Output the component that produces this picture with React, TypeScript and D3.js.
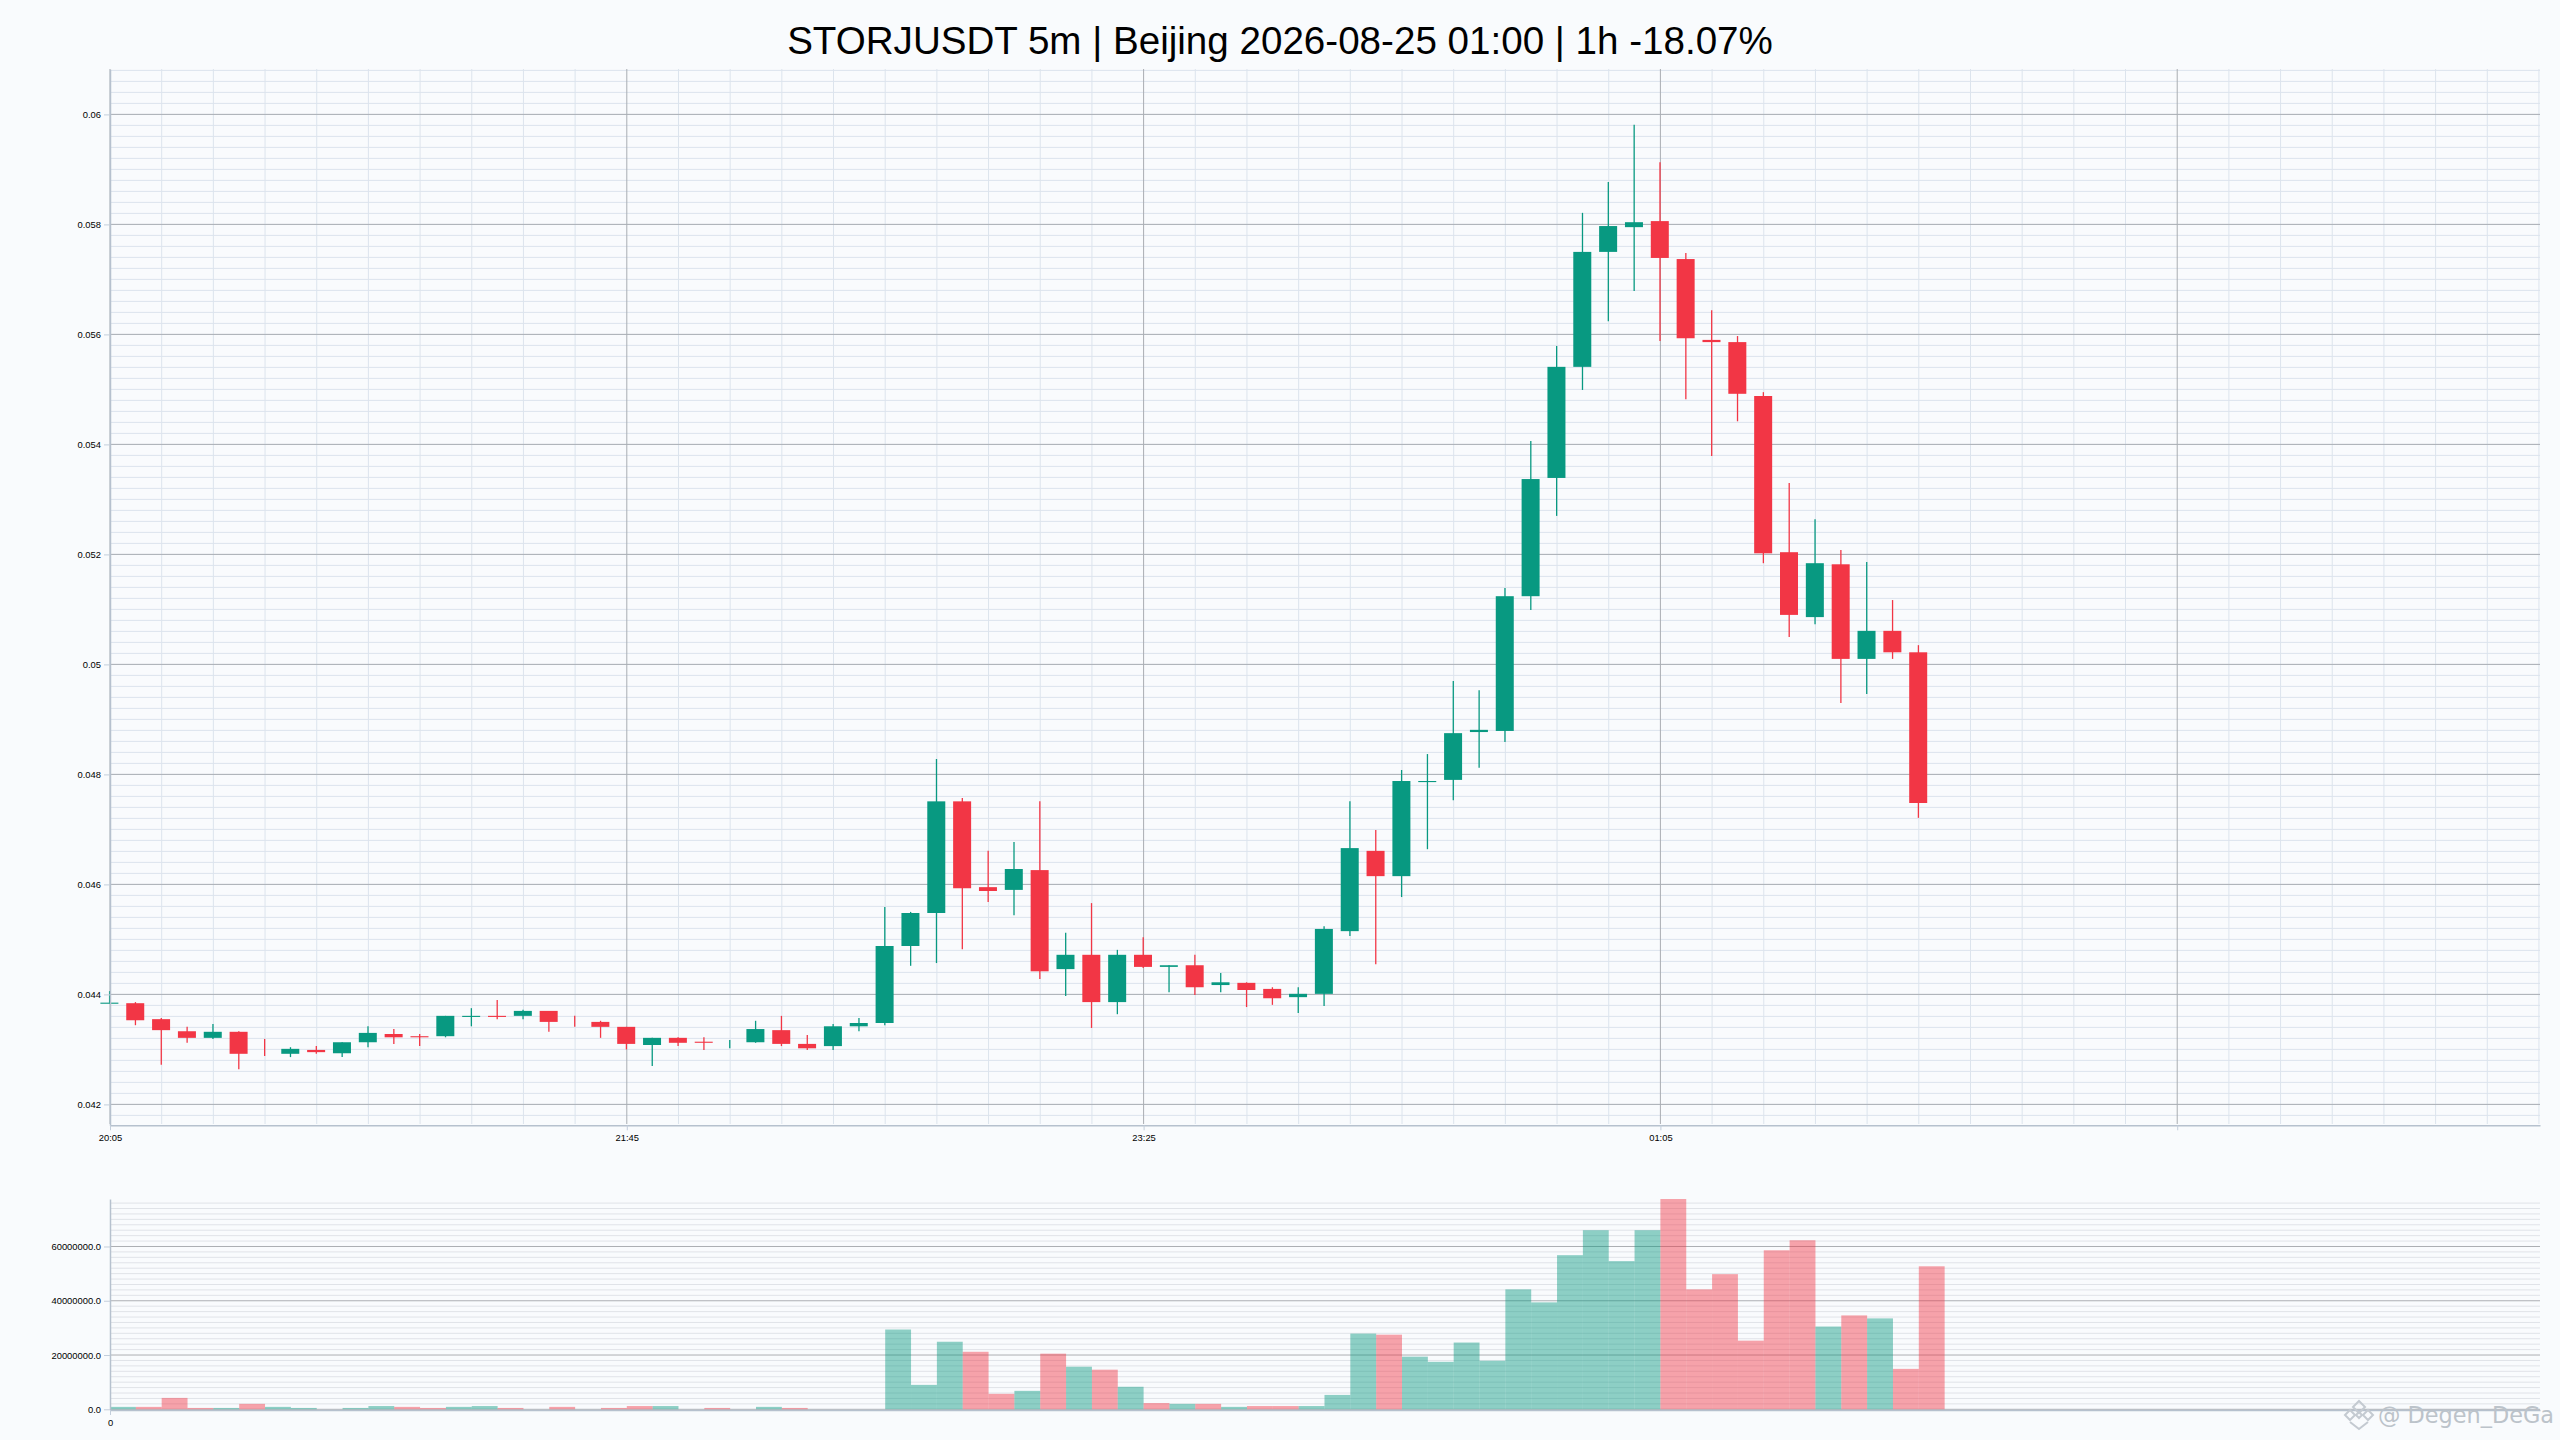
import { useEffect, useRef } from 'react'
import * as d3 from 'd3'

const title = 'STORJUSDT 5m | Beijing 2026-08-25 01:00 | 1h -18.07%'
const watermark = '@ Degen_DeGa'

const opens = [
  0.04383, 0.04384, 0.04355, 0.04333, 0.04321, 0.04332, 0.043, 0.04292, 0.04299, 0.04293,
  0.04313, 0.04328, 0.04324, 0.04324, 0.04359, 0.04361, 0.04361, 0.0437, 0.0435, 0.0435,
  0.04341, 0.04308, 0.04321, 0.04314, 0.0431, 0.04313, 0.04335, 0.0431, 0.04306, 0.04342,
  0.04348, 0.04488, 0.04548, 0.04751, 0.04595, 0.0459, 0.04626, 0.04446, 0.04472, 0.04386,
  0.04472, 0.0445, 0.04453, 0.04417, 0.04421, 0.0441, 0.04395, 0.04401, 0.04515, 0.04661,
  0.04615, 0.04786, 0.0479, 0.04877, 0.04879, 0.05124, 0.05339, 0.05541, 0.0575, 0.05795,
  0.05806, 0.05737, 0.0559, 0.05586, 0.05488, 0.05204, 0.05086, 0.05182, 0.0501, 0.05061,
  0.05022,
]
const closes = [
  0.04385, 0.04353, 0.04335, 0.04321, 0.04332, 0.04292, 0.043, 0.04301, 0.04295, 0.04313,
  0.0433, 0.04322, 0.04322, 0.04361, 0.04361, 0.04359, 0.0437, 0.0435, 0.0435, 0.04341,
  0.0431, 0.04321, 0.04312, 0.04312, 0.0431, 0.04337, 0.0431, 0.04302, 0.04342, 0.04348,
  0.04488, 0.04548, 0.04751, 0.04593, 0.04588, 0.04628, 0.04442, 0.04472, 0.04386, 0.04472,
  0.0445, 0.04453, 0.04413, 0.04422, 0.04408, 0.04393, 0.04401, 0.04519, 0.04666, 0.04615,
  0.04788, 0.04788, 0.04875, 0.04881, 0.05124, 0.05337, 0.05541, 0.0575, 0.05797, 0.05804,
  0.05739, 0.05593, 0.05586, 0.05492, 0.05202, 0.0509, 0.05184, 0.0501, 0.05061, 0.05022,
  0.04748,
]
const highs = [
  0.04406, 0.04386, 0.04357, 0.04341, 0.04346, 0.04333, 0.04319, 0.04304, 0.04306, 0.04313,
  0.04342, 0.04337, 0.04328, 0.04361, 0.04375, 0.0439, 0.04372, 0.0437, 0.04361, 0.04352,
  0.04341, 0.04321, 0.04322, 0.04322, 0.04317, 0.04352, 0.04361, 0.04326, 0.04346, 0.04357,
  0.04559, 0.0455, 0.04828, 0.04757, 0.04661, 0.04677, 0.04751, 0.04512, 0.04566, 0.04481,
  0.04504, 0.04453, 0.04472, 0.04439, 0.04422, 0.04413, 0.04413, 0.04524, 0.04751, 0.04699,
  0.04808, 0.04837, 0.0497, 0.04953, 0.05139, 0.05406, 0.05579, 0.05821, 0.05877, 0.05981,
  0.05913, 0.05748, 0.05644, 0.05597, 0.05495, 0.0533, 0.05264, 0.05208, 0.05186, 0.05117,
  0.05035,
]
const lows = [
  0.04383, 0.04344, 0.04272, 0.04312, 0.04319, 0.04264, 0.04288, 0.04286, 0.04292, 0.04286,
  0.04304, 0.0431, 0.04306, 0.04322, 0.04342, 0.04355, 0.04355, 0.04332, 0.04341, 0.04321,
  0.043, 0.0427, 0.04306, 0.04299, 0.04302, 0.04312, 0.04306, 0.04299, 0.04299, 0.04333,
  0.04344, 0.04452, 0.04457, 0.04482, 0.04568, 0.04544, 0.04428, 0.04397, 0.04339, 0.04364,
  0.04448, 0.04404, 0.04399, 0.04404, 0.04377, 0.04381, 0.04366, 0.04379, 0.04506, 0.04455,
  0.04577, 0.04664, 0.04753, 0.04812, 0.04859, 0.05099, 0.0527, 0.05499, 0.05624, 0.05679,
  0.05588, 0.05482, 0.05379, 0.05442, 0.05184, 0.0505, 0.05073, 0.0493, 0.04946, 0.0501,
  0.04721,
]
// in millions
const volumes = [
  0.9, 0.9, 4.2, 0.5, 0.5, 2.0, 0.9, 0.5, 0, 0.5,
  1.2, 0.9, 0.5, 0.9, 1.2, 0.5, 0, 0.9, 0, 0.5,
  1.2, 1.2, 0, 0.5, 0, 0.9, 0.5, 0, 0, 0,
  29.4, 9.0, 24.9, 21.2, 5.7, 6.8, 20.5, 15.7, 14.6, 8.3,
  2.3, 2.0, 2.0, 0.9, 1.2, 1.2, 1.2, 5.3, 27.9, 27.5,
  19.4, 17.5, 24.6, 17.9, 44.2, 39.4, 56.8, 66.0, 54.6, 66.0,
  77.5, 44.2, 49.8, 25.3, 58.6, 62.3, 30.5, 34.6, 33.5, 14.9,
  52.7,
]
// flat candles that still print red
const flatRedCandles = [6, 18]

const timeLabels = ['20:05', '21:45', '23:25', '01:05', '']
const priceTicks = [0.042, 0.044, 0.046, 0.048, 0.05, 0.052, 0.054, 0.056, 0.058, 0.06]
const volumeTicks = [0, 20000000, 40000000, 60000000]

const GREEN = '#089981'
const RED = '#F23645'

export default function App() {
  const chartRef = useRef<SVGSVGElement>(null)

  useEffect(() => {
    if (!chartRef.current) return

    const svg = d3.select(chartRef.current)
    svg.selectAll('*').remove()

    const left = 110
    const right = 2540
    const font = '"Liberation Sans", Arial, sans-serif'

    const x = d3.scaleLinear().domain([0, 94.04]).range([left, right])
    const y = d3.scaleLinear().domain([0.04162, 0.06082]).range([1125.3, 69.3])
    const yVol = d3.scaleLinear().domain([0, 77500000]).range([1409.3, 1199])
    const step = x(1) - x(0)
    const bodyWidth = 18

    svg.append('rect').attr('width', 2560).attr('height', 1440).attr('fill', '#F9FBFD')

    svg.append('text')
      .attr('x', 1280)
      .attr('y', 54)
      .attr('text-anchor', 'middle')
      .style('font-family', font)
      .style('font-size', '38.6px')
      .style('fill', '#000')
      .text(title)

    // price pane grid
    const grid = svg.append('g')
    const minorPrices = d3.range(96).map(i => 0.0418 + i * 0.0002)
    const minorX = d3.range(0, 95, 2)

    grid.selectAll('line.hm')
      .data(minorPrices)
      .enter()
      .append('line')
      .attr('x1', left).attr('x2', right)
      .attr('y1', d => y(d)).attr('y2', d => y(d))
      .attr('stroke', '#DCE4ED')
      .attr('stroke-width', 1)

    grid.selectAll('line.vm')
      .data(minorX)
      .enter()
      .append('line')
      .attr('x1', d => x(d)).attr('x2', d => x(d))
      .attr('y1', 69).attr('y2', 1124)
      .attr('stroke', d => (d % 20 === 0 ? '#A9ADB2' : '#DCE4ED'))
      .attr('stroke-width', 1)

    grid.selectAll('line.hM')
      .data(priceTicks)
      .enter()
      .append('line')
      .attr('x1', left).attr('x2', right)
      .attr('y1', d => y(d)).attr('y2', d => y(d))
      .attr('stroke', '#ABAFB4')
      .attr('stroke-width', 1)

    // volume pane grid
    const minorVolumes = d3.range(39).map(i => i * 2000000)
    grid.selectAll('line.vol')
      .data(minorVolumes)
      .enter()
      .append('line')
      .attr('x1', left).attr('x2', right)
      .attr('y1', d => yVol(d)).attr('y2', d => yVol(d))
      .attr('stroke', d => (d % 20000000 === 0 ? '#ACAFB3' : '#E0E3E8'))
      .attr('stroke-width', 1)

    // volume bars start at the candle centre
    svg.append('g')
      .selectAll('rect')
      .data(volumes)
      .enter()
      .append('rect')
      .attr('x', (_, i) => x(i))
      .attr('y', d => yVol(d * 1000000))
      .attr('width', step)
      .attr('height', d => yVol(0) - yVol(d * 1000000))
      .attr('fill', (_, i) => (closes[i] >= opens[i] ? GREEN : RED))
      .attr('fill-opacity', 0.45)

    // candles
    const isUp = (i: number) => closes[i] >= opens[i] && !flatRedCandles.includes(i)
    const candles = svg.append('g')

    candles.selectAll('line')
      .data(highs)
      .enter()
      .append('line')
      .attr('x1', (_, i) => x(i) - 0.4).attr('x2', (_, i) => x(i) - 0.4)
      .attr('y1', d => y(d))
      .attr('y2', (_, i) => y(lows[i]))
      .attr('stroke', (_, i) => (isUp(i) ? GREEN : RED))
      .attr('stroke-width', 1.3)

    candles.selectAll('rect')
      .data(opens)
      .enter()
      .append('rect')
      .attr('x', (_, i) => x(i) - bodyWidth / 2 - 0.6)
      .attr('y', (d, i) => y(Math.max(d, closes[i])))
      .attr('width', bodyWidth)
      .attr('height', (d, i) => Math.abs(y(d) - y(closes[i])))
      .attr('fill', (_, i) => (isUp(i) ? GREEN : RED))

    // axes
    const styleAxis = (g: d3.Selection<SVGGElement, unknown, null, undefined>) => {
      g.selectAll('text')
        .style('font-family', font)
        .style('font-size', '9.4px')
        .style('fill', '#000')
      g.selectAll('.tick line').attr('stroke', '#C3CEDB')
      g.select('.domain').attr('stroke', '#B6C1CE').attr('stroke-width', 1.5)
    }

    const priceAxis = d3.axisLeft(y)
      .tickValues(priceTicks)
      .tickFormat(d => d3.format('~g')(d as number))
      .tickSize(6)
      .tickSizeOuter(0)
    svg.append('g').attr('transform', `translate(${left},0)`).call(priceAxis).call(styleAxis)

    const timeAxis = d3.axisBottom(x)
      .tickValues(timeLabels.map((_, i) => i * 20))
      .tickFormat((_, i) => timeLabels[i])
      .tickSize(5)
      .tickPadding(4)
      .tickSizeOuter(0)
    svg.append('g').attr('transform', 'translate(0,1125.3)').call(timeAxis).call(styleAxis)

    const volumeAxis = d3.axisLeft(yVol)
      .tickValues(volumeTicks)
      .tickFormat(d => d3.format('.1f')(d as number))
      .tickSize(6)
      .tickSizeOuter(0)
    svg.append('g').attr('transform', `translate(${left},0)`).call(volumeAxis).call(styleAxis)

    const volumeTimeAxis = d3.axisBottom(x)
      .tickValues([0])
      .tickFormat(() => '0')
      .tickSize(5)
      .tickPadding(4)
      .tickSizeOuter(0)
    svg.append('g').attr('transform', 'translate(0,1410)').call(volumeTimeAxis).call(styleAxis)

    // watermark
    const mark = svg.append('g')
      .attr('transform', 'translate(2359,1415)')
      .attr('fill', 'none')
      .attr('stroke', '#C4CAD1')
      .attr('stroke-width', 2)
    mark.append('path').attr('d', 'M0,-14 L6,-8 L0,-2 L-6,-8 Z')
    mark.append('path').attr('d', 'M-9,-5 L-4,0 L-9,5 L-14,0 Z')
    mark.append('path').attr('d', 'M9,-5 L14,0 L9,5 L4,0 Z')
    mark.append('path').attr('d', 'M0,-3 L3,0 L0,3 L-3,0 Z')
    mark.append('path').attr('d', 'M-9,7 L0,14 L9,7')

    svg.append('text')
      .attr('x', 2378)
      .attr('y', 1423)
      .style('font-family', '"DejaVu Sans", sans-serif')
      .style('font-size', '22.4px')
      .style('fill', '#BCC3CA')
      .text(watermark)
  }, [])

  return (
    <svg
      ref={chartRef}
      width="2560"
      height="1440"
      style={{ position: 'fixed', left: 0, top: 0, display: 'block' }}
    ></svg>
  )
}
